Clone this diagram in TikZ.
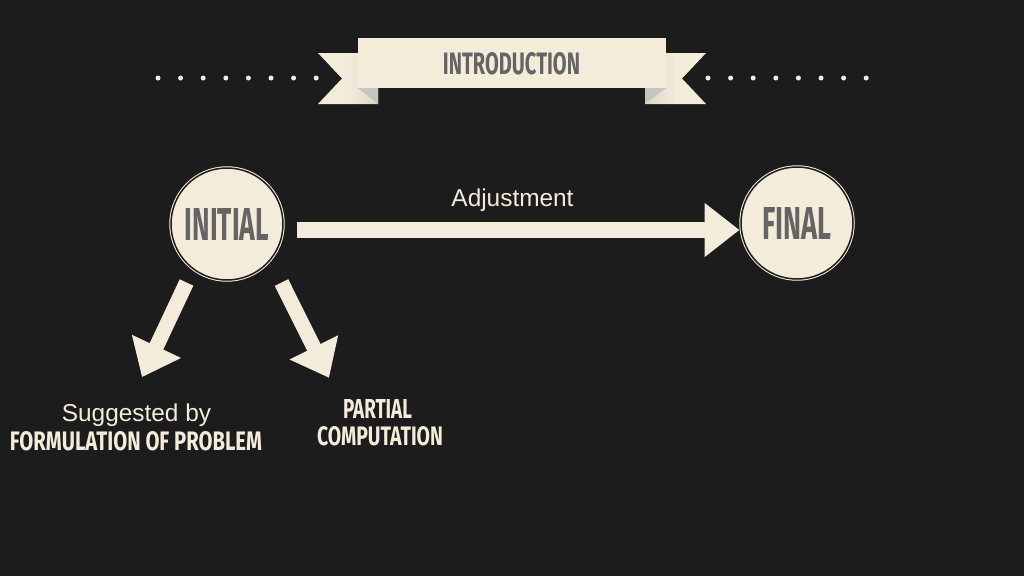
\documentclass[tikz,border=0pt]{standalone}
\usepackage{fontspec}
\usepackage{graphicx}
\setmainfont{Liberation Sans}
\newfontfamily\decofont{Fira Sans}
\usetikzlibrary{arrows.meta,calc}
\definecolor{bg}{HTML}{1C1C1C}
\definecolor{cream}{HTML}{F4ECDA}
\definecolor{creamdark}{HTML}{DCD6C8}
\definecolor{decogray}{HTML}{646464}
\definecolor{foldgray}{HTML}{C6C4C0}
\newcommand\decotext[3]{\resizebox{#1pt}{#2pt}{\decofont\bfseries #3}}
\tikzset{
  circ/.style={circle, fill=cream, draw=cream, double=bg, double distance=1.5pt,
    line width=1pt, minimum size=112pt, inner sep=0pt, text=decogray},
  bigarrow/.style={draw=cream, line width=16pt, -{Triangle[width=52pt,length=35pt]}},
  diagarrow/.style={draw=cream, line width=15pt, -{Triangle[width=52pt,length=34pt]}},
  plain/.style={text=cream, inner sep=0pt, font=\fontsize{24.4}{26}\selectfont},
  deco/.style={text=cream, inner sep=0pt},
  dot/.style={fill=cream}
}
\begin{document}
\begin{tikzpicture}[x=1pt,y=-1pt]
\fill[bg] (0,0) rectangle (1024,576);
\useasboundingbox (0,0) rectangle (1024,576);

% banner tails
\shade[left color=cream, right color=creamdark, middle color=cream]
  (318,53) -- (378,53) -- (378,104) -- (318,104) -- (342,78.5) -- cycle;
\fill[foldgray] (358,88) -- (378,88) -- (378,104) -- cycle;
\shade[right color=cream, left color=creamdark, middle color=cream]
  (706,53) -- (645,53) -- (645,104) -- (706,104) -- (682,78.5) -- cycle;
\fill[foldgray] (666,88) -- (645,88) -- (645,104) -- cycle;
% banner body
\fill[cream] (358,38) rectangle (666,88);
\node[deco, text=decogray] (intro) at (511.5,64) {\decotext{137}{22}{INTRODUCTION}};

% dots
\foreach \i in {0,...,7} {
  \fill[dot] (158+22.6*\i,78) circle (2.5);
  \fill[dot] (708+22.6*\i,78) circle (2.5);
}

% circles
\node[circ] (initial) at (227,224) {\decotext{84}{32}{INITIAL}};
\node[circ] (final) at (797,223) {\decotext{69}{32}{FINAL}};

% adjustment arrow
\node[plain, anchor=base] (adj) at (512.5,206) {Adjustment};
\draw[bigarrow] ($(initial.east)+(13,6)$) -- ($(final.west)+(-1,7)$);

% labels below
\node[plain, anchor=base] (sugg) at (136.5,421) {Suggested by};
\node[deco] (form) at (136,441) {\decotext{252}{19}{FORMULATION OF PROBLEM}};
\node[deco] (partial) at (377.5,408.5) {\decotext{69}{19}{PARTIAL}};
\node[deco] (comp) at (380,436.5) {\decotext{126}{19}{COMPUTATION}};

% diagonal arrows
\coordinate (tipA) at ($(sugg.north)+(5.5,-26)$);
\coordinate (tipB) at ($(partial.north)+(-48.5,-21)$);
\draw[diagarrow] ($(initial.center)+(-40.5,58.5)$) -- (tipA);
\draw[diagarrow] ($(initial.center)+(54.5,58.5)$) -- (tipB);
\end{tikzpicture}
\end{document}
